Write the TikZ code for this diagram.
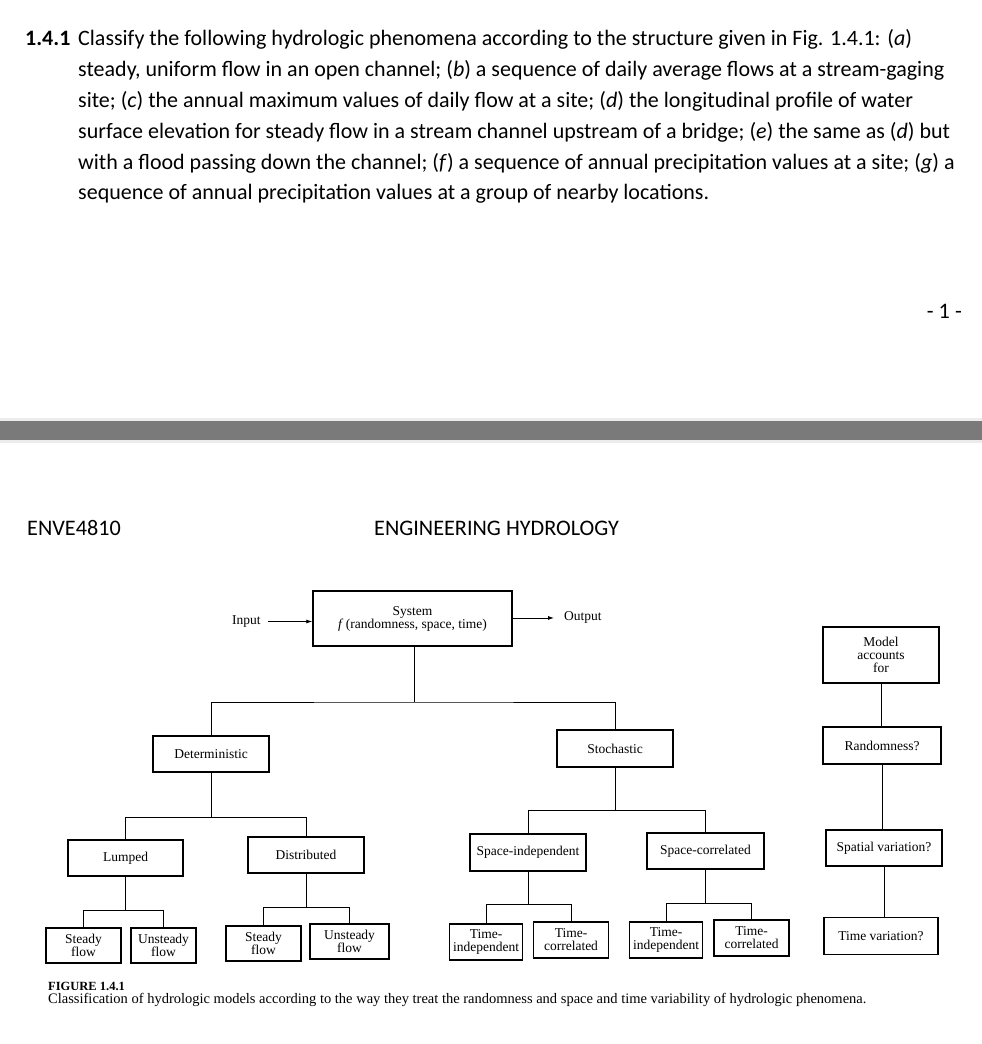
\documentclass[tikz,border=0pt]{standalone}
\usepackage{fontspec}
\setmainfont{Liberation Serif}
\newfontfamily\calfont{Carlito}
\usetikzlibrary{arrows.meta}
\definecolor{bargray}{RGB}{122,122,122}
\definecolor{barlight}{RGB}{236,236,236}
\begin{document}
\begin{tikzpicture}[x=1pt,y=-1pt,
  txtline/.style={anchor=base west,inner sep=0pt,font=\calfont\fontsize{22}{22}\selectfont},
  hdr/.style={anchor=base west,inner sep=0pt,font=\calfont\fontsize{22.2}{22}\selectfont},
  box/.style={draw,line width=1.4pt,inner sep=0pt,align=center,font=\fontsize{13.5}{13}\selectfont},
  lbl/.style={inner sep=0pt,align=center,font=\fontsize{13.5}{13}\selectfont},
  conn/.style={line width=0.8pt},
  arr/.style={line width=0.8pt,-{Latex[length=6pt,width=4pt]}}]
\useasboundingbox[fill=white] (0,0) rectangle (982,1044);
% question text
\node[txtline] (l1) at (25,45) {\textbf{1.4.1}};
\node[txtline] (l1b) at (78,45) {Classify the following hydrologic phenomena according to the structure given in Fig. 1.4.1: (\textit{a})};
\node[txtline] (l2) at (78,76) {steady, uniform flow in an open channel; (\textit{b}) a sequence of daily average flows at a stream-gaging};
\node[txtline] (l3) at (78,107) {site; (\textit{c}) the annual maximum values of daily flow at a site; (\textit{d}) the longitudinal profile of water};
\node[txtline] (l4) at (78,138) {surface elevation for steady flow in a stream channel upstream of a bridge; (\textit{e}) the same as (\textit{d}) but};
\node[txtline] (l5) at (78,169) {with a flood passing down the channel; (\textit{f}) a sequence of annual precipitation values at a site; (\textit{g}) a};
\node[txtline] (l6) at (78,199) {sequence of annual precipitation values at a group of nearby locations.};
\node[hdr,anchor=base east] (pg) at (962,318) {- 1 -};
% page separator bar
\fill[barlight] (0,418) rectangle (982,443);
\fill[bargray] (0,421) rectangle (982,440);
% header
\node[hdr] (h1) at (27,535) {ENVE4810};
\node[hdr] (h2) at (374,535) {ENGINEERING HYDROLOGY};
% diagram
\node[box,minimum width=199pt,minimum height=55pt] (sys) at (412.5,618.5) {System\\\textit{f}\,(randomness, space, time)};
\node[lbl,anchor=base west] (inp) at (232,624) {Input};
\node[lbl,anchor=base west] (out) at (564,620) {Output};
\coordinate (ia) at ([xshift=7pt,yshift=-0.5pt]inp.east);
\coordinate (oa) at ([xshift=-10pt,yshift=-1pt]out.west);
\draw[arr] (ia) -- (sys.west |- ia);
\draw[arr] (sys.east |- oa) -- (oa);

\node[box,minimum width=116pt,minimum height=36pt] (det) at (211,754) {Deterministic};
\node[box,minimum width=116pt,minimum height=37pt] (sto) at (615,748.5) {Stochastic};
\node[box,minimum width=115pt,minimum height=36pt] (lum) at (125.5,858) {Lumped};
\node[box,minimum width=116pt,minimum height=36pt] (dis) at (306,855) {Distributed};
\node[box,minimum width=116pt,minimum height=37pt] (sin) at (528,852.5) {Space-independent};
\node[box,minimum width=117pt,minimum height=36pt] (sco) at (705.5,851) {Space-correlated};

\node[box,minimum width=75pt,minimum height=35pt] (sf1) at (83.5,945.5) {Steady\\flow};
\node[box,minimum width=65pt,minimum height=35pt] (uf1) at (163.5,945.5) {Unsteady\\flow};
\node[box,minimum width=75pt,minimum height=35pt] (sf2) at (263.5,943.5) {Steady\\flow};
\node[box,minimum width=79pt,minimum height=35pt] (uf2) at (349.5,941.5) {Unsteady\\flow};
\node[box,minimum width=73pt,minimum height=36pt] (ti1) at (486,942) {Time-\\independent};
\node[box,minimum width=75pt,minimum height=36pt] (tc1) at (571,940) {Time-\\correlated};
\node[box,minimum width=73pt,minimum height=36pt] (ti2) at (666,940) {Time-\\independent};
\node[box,minimum width=75pt,minimum height=36pt] (tc2) at (751.5,938) {Time-\\correlated};

\node[box,minimum width=116pt,minimum height=56pt] (mod) at (881,655) {Model\\accounts\\for};
\node[box,minimum width=118pt,minimum height=37pt] (ran) at (882,745.5) {Randomness?};
\node[box,minimum width=116pt,minimum height=36pt] (spa) at (884,848) {Spatial variation?};
\node[box,minimum width=114pt,minimum height=37pt] (tim) at (881,936) {Time variation?};

% tree connectors
\coordinate (j1) at (414,702);
\draw[conn] (sys.south -| j1) -- (j1);
\draw[conn] (det.north) |- (j1) -| (sto.north);
\coordinate (j2) at (212,817);
\draw[conn] (det.south) -- (det.south |- j2);
\draw[conn] (lum.north) |- (j2) -| (dis.north);
\coordinate (j3) at (616,810);
\draw[conn] (sto.south) -- (sto.south |- j3);
\draw[conn] (sin.north) |- (j3) -| (sco.north);
\coordinate (j4) at (126,910);
\draw[conn] (lum.south) -- (lum.south |- j4);
\draw[conn] (sf1.north) |- (j4) -| (uf1.north);
\coordinate (j5) at (305,907);
\draw[conn] (dis.south) -- (dis.south |- j5);
\draw[conn] (sf2.north) |- (j5) -| (uf2.north);
\coordinate (j6) at (528,904);
\draw[conn] (sin.south) -- (sin.south |- j6);
\draw[conn] (ti1.north) |- (j6) -| (tc1.north);
\coordinate (j7) at (706,903);
\draw[conn] (sco.south) -- (sco.south |- j7);
\draw[conn] (ti2.north) |- (j7) -| (tc2.north);
% right column
\draw[conn] (mod.south) -- (ran.north -| mod.south);
\draw[conn] (ran.south) -- (spa.north -| ran.south);
\draw[conn] (spa.south) -- (tim.north -| spa.south);

% caption
\node[anchor=base west,inner sep=0pt,font=\fontsize{12.5}{12}\selectfont\bfseries] (fig) at (48,990) {FIGURE 1.4.1};
\node[anchor=base west,inner sep=0pt,font=\fontsize{14.5}{14}\selectfont] (cap) at (48,1003) {Classification of hydrologic models according to the way they treat the randomness and space and time variability of hydrologic phenomena.};
\end{tikzpicture}
\end{document}
